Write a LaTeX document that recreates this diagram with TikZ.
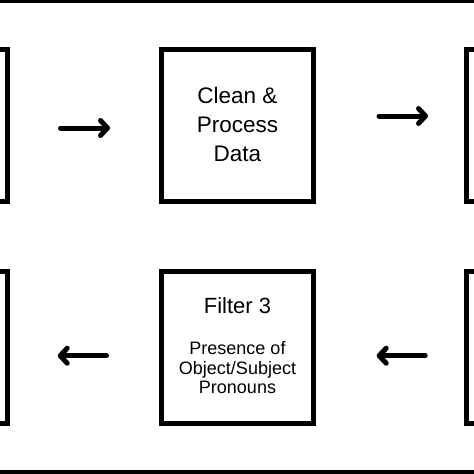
\documentclass[tikz,border=0pt]{standalone}
\usepackage{fontspec}
\setmainfont{Liberation Sans}
\usetikzlibrary{arrows.meta}
\begin{document}
\begin{tikzpicture}[x=1pt,y=-1pt,
  stepbox/.style={draw, line width=5pt, minimum width=152pt, minimum height=152pt,
    inner sep=0pt, outer sep=0pt, align=center, text depth=3pt,
    font=\fontsize{22.5}{29}\selectfont},
  flow/.style={line width=5pt, line cap=round,
    -{Straight Barb[length=7pt,width=15pt,round]}},
  rule/.style={line width=3.6pt}]
\useasboundingbox (0,0) rectangle (474,474);
\clip (0,0) rectangle (474,474);
\draw[rule] (0,1.6) -- (474,1.6);
\draw[rule] (0,472.2) -- (474,472.2);
% top row
\node[stepbox] (a1) at (-69,125.5) {};
\node[stepbox] (a2) at (237.5,125.5) {Clean \&\\Process\\Data};
\node[stepbox] (a3) at (542.5,125.5) {};
% bottom row
\node[stepbox] (b1) at (-69,347.5) {};
\node[stepbox, font=\fontsize{18}{19.5}\selectfont] (b2) at (237.5,347.5)
  {{\fontsize{22}{26}\selectfont Filter 3}\\[21.5pt]Presence of\\Object/Subject\\Pronouns};
\node[stepbox] (b3) at (542.5,347.5) {};
% arrows
\draw[flow, shorten <=53.5pt, shorten >=51.5pt] ([yshift=-2.5pt]a1.east) -- ([yshift=-2.5pt]a2.west);
\draw[flow, shorten <=65.5pt, shorten >=38.5pt] ([yshift=9.5pt]a2.east) -- ([yshift=9.5pt]a3.west);
\draw[flow, shorten <=41.3pt, shorten >=63.2pt] ([yshift=-8.2pt]b3.west) -- ([yshift=-8.2pt]b2.east);
\draw[flow, shorten <=55pt, shorten >=50.7pt] ([yshift=-8.2pt]b2.west) -- ([yshift=-8.2pt]b1.east);
\end{tikzpicture}
\end{document}
